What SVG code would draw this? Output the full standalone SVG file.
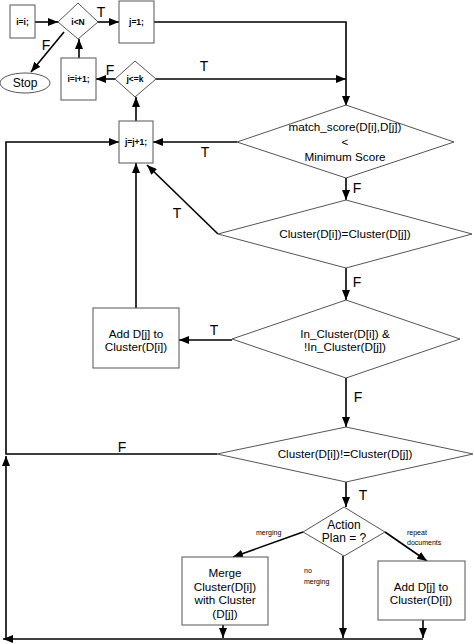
<svg xmlns="http://www.w3.org/2000/svg" width="474" height="644" viewBox="0 0 474 644">
<defs>
<marker id="ah" viewBox="0 0 10 8" refX="10" refY="4" markerWidth="10" markerHeight="8" markerUnits="userSpaceOnUse" orient="auto">
<path d="M0,0 L10,4 L0,8 z" fill="#000"/>
</marker>
<style>
.shape{fill:#fff;stroke:#555;stroke-width:1}
.conn{fill:none;stroke:#000;stroke-width:1.6}
.arr{marker-end:url(#ah)}
.t{font-family:"Liberation Sans",Arial,sans-serif;font-size:11.7px;fill:#000;text-anchor:middle}
.s{font-family:"Liberation Sans",Arial,sans-serif;font-size:8.5px;font-weight:bold;fill:#000;text-anchor:middle}
.lb{font-family:"Liberation Sans",Arial,sans-serif;font-size:14px;fill:#000;text-anchor:middle}
.sm{font-family:"Liberation Sans",Arial,sans-serif;font-size:7px;fill:#000}
</style>
</defs>
<rect width="474" height="644" fill="#fff"/>

<g id="connectors">
<path class="conn arr" d="M35,22 H58"/>
<path class="conn arr" d="M98,22 H119"/>
<path class="conn arr" d="M154,22 H346 V106"/>
<path class="conn arr" d="M64,32 L31,72"/>
<path class="conn arr" d="M115,79 H96"/>
<path class="conn arr" d="M79,58 V39"/>
<path class="conn arr" d="M156,79 H346"/>
<path class="conn arr" d="M136,121 V97"/>
<path class="conn arr" d="M237,142 H153"/>
<path class="conn arr" d="M346,178 V200"/>
<path class="conn arr" d="M218,234 L147,165"/>
<path class="conn arr" d="M346,268 V300"/>
<path class="conn arr" d="M232,340 H179"/>
<path class="conn arr" d="M136,308 V163"/>
<path class="conn arr" d="M346,378 V427"/>
<path class="conn arr" d="M217,454 H6 V142 H119"/>
<path class="conn arr" d="M346,482 V507"/>
<path class="conn arr" d="M303,532 L233,557"/>
<path class="conn arr" d="M385,532 L427,561"/>
<path class="conn arr" d="M343,556 V638"/>
<path class="conn arr" d="M223,625 V638"/>
<path class="conn arr" d="M423,620 V638"/>
<path class="conn arr" d="M423,639 H3"/>
<path class="conn arr" d="M6,639 V456"/>
</g>

<g id="labels">
<text class="lb" x="101" y="17">T</text>
<text class="lb" x="46" y="50">F</text>
<text class="lb" x="110" y="75">F</text>
<text class="lb" x="204" y="71">T</text>
<text class="lb" x="205" y="157">T</text>
<text class="lb" x="357" y="193">F</text>
<text class="lb" x="177" y="218">T</text>
<text class="lb" x="357" y="287">F</text>
<text class="lb" x="214" y="335">T</text>
<text class="lb" x="358" y="402">F</text>
<text class="lb" x="122" y="452">F</text>
<text class="lb" x="363" y="500">T</text>
<text class="sm" x="256" y="535">merging</text>
<text class="sm" x="407" y="535">repeat</text>
<text class="sm" x="407" y="545">documents</text>
<text class="sm" x="304" y="573">no</text>
<text class="sm" x="304" y="584">merging</text>
</g>

<g id="n_init">
<rect class="shape" x="10" y="5" width="25" height="33"/>
<text class="s" x="22.5" y="25">i=i;</text>
</g>
<g id="n_iltN">
<polygon class="shape" points="78,3 98,22 78,39 58,22"/>
<text class="s" x="78" y="25">i&lt;N</text>
</g>
<g id="n_j1">
<rect class="shape" x="119" y="1" width="35" height="42"/>
<text class="s" x="136.5" y="25">j=1;</text>
</g>
<g id="n_stop">
<ellipse class="shape" cx="25" cy="83" rx="25" ry="10"/>
<text class="t" x="25" y="87" style="font-size:12px">Stop</text>
</g>
<g id="n_iinc">
<rect class="shape" x="61" y="58" width="35" height="42"/>
<text class="s" x="78.5" y="82">i=i+1;</text>
</g>
<g id="n_jlek">
<polygon class="shape" points="135,61 156,79 135,97 115,79"/>
<text class="s" x="135" y="82">j&lt;=k</text>
</g>
<g id="n_jinc">
<rect class="shape" x="119" y="121" width="34" height="42"/>
<text class="s" x="136" y="145">j=j+1;</text>
</g>
<g id="n_match">
<polygon class="shape" points="346,105 454,142 346,178 237,142"/>
<text class="t" x="345" y="131">match_score(D[i],D[j])</text>
<text class="t" x="345" y="146">&lt;</text>
<text class="t" x="345" y="161">Minimum Score</text>
</g>
<g id="n_eq">
<polygon class="shape" points="346,200 472,234 346,268 218,234"/>
<text class="t" x="345" y="238">Cluster(D[i])=Cluster(D[j])</text>
</g>
<g id="n_incl">
<polygon class="shape" points="346,300 460,339 346,378 232,339"/>
<text class="t" x="345" y="338">In_Cluster(D[i]) &amp;</text>
<text class="t" x="345" y="351">!In_Cluster(D[j])</text>
</g>
<g id="n_add1">
<rect class="shape" x="93" y="308" width="86" height="60"/>
<text class="t" x="136" y="338">Add D[j] to</text>
<text class="t" x="136" y="351">Cluster(D[i])</text>
</g>
<g id="n_neq">
<polygon class="shape" points="346,427 473,454 346,482 217,454"/>
<text class="t" x="345" y="458">Cluster(D[i])!=Cluster(D[j])</text>
</g>
<g id="n_action">
<polygon class="shape" points="344,507 385,532 344,556 303,532"/>
<text class="t" x="344" y="529" style="font-size:12px">Action</text>
<text class="t" x="344" y="542" style="font-size:12px">Plan = ?</text>
</g>
<g id="n_merge">
<rect class="shape" x="182" y="557" width="86" height="68"/>
<text class="t" x="225" y="577">Merge</text>
<text class="t" x="225" y="591">Cluster(D[i])</text>
<text class="t" x="225" y="604">with Cluster</text>
<text class="t" x="225" y="618">(D[j])</text>
</g>
<g id="n_add2">
<rect class="shape" x="378" y="561" width="87" height="59"/>
<text class="t" x="421" y="591">Add D[j] to</text>
<text class="t" x="421" y="604">Cluster(D[i])</text>
</g>
</svg>
